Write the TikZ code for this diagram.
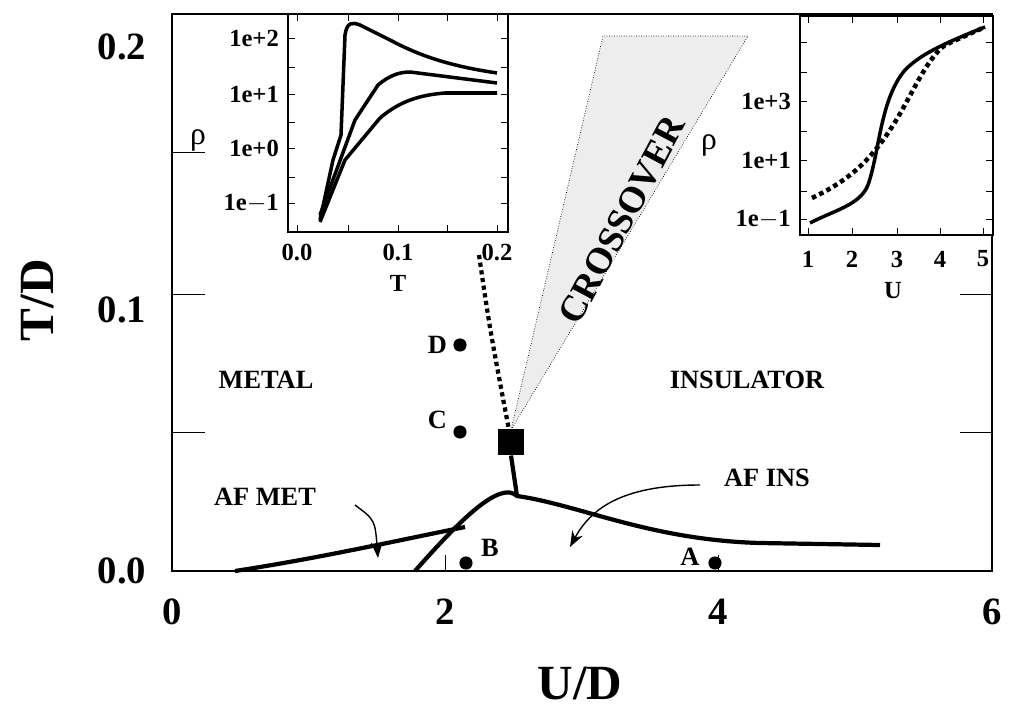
\documentclass[tikz,border=0pt]{standalone}
\usepackage{fontspec}
\setmainfont{Liberation Serif}
\usetikzlibrary{arrows.meta}
\begin{document}
\begin{tikzpicture}[x=0.02cm,y=-0.02cm,
  lab/.style={font=\bfseries\fontsize{15}{15}\selectfont},
  tk/.style={font=\bfseries\fontsize{14}{14}\selectfont},
  big/.style={font=\bfseries\fontsize{22}{22}\selectfont},
  curve/.style={line width=2.4pt,line join=round},
  dot/.style={circle,fill=black,inner sep=0pt,minimum size=7.5pt},
  frame/.style={line width=1.6pt}]
\useasboundingbox (0,0) rectangle (1022,713);
% main frame
\draw[frame] (172,14) rectangle (992,571);
\foreach \y in {152,294,432}{\draw (172,\y)--(205,\y);}
\foreach \y in {294,432}{\draw (960,\y)--(992,\y);}
\foreach \x in {445,718}{\draw[thin] (\x,571)--(\x,555);}
\node[big] (x0) at (172,612) {0};
\node[big] (x2) at (445,612) {2};
\node[big] (x4) at (718,612) {4};
\node[big] (x6) at (992,612) {6};
\node[big] (y0) at (122,571) {0.0};
\node[big] (y1) at (122,310) {0.1};
\node[big] (y2) at (122,47) {0.2};
\node[big,font=\bfseries\fontsize{28}{28}\selectfont,rotate=90] (TD) at (38,300) {T/D};
\node[big,font=\bfseries\fontsize{28}{28}\selectfont] (UD) at (580,684) {U/D};
% crossover
\fill[black!7] (511,430) -- (603,36) -- (748,36) -- cycle;
\draw[densely dotted,thin] (511,430) -- (603,36) -- (748,36) -- cycle;
\node[big,font=\bfseries\fontsize{21}{21}\selectfont,rotate=62] (cross) at (622,220) {CROSSOVER};
% lines
\draw[line width=2.4pt,dotted] (479,255) .. controls (490,330) .. (509,430);
\node[fill=black,minimum size=15pt,inner sep=0pt] (sq) at (511,442) {};
\coordinate (peak) at (517,496);
\draw[curve] (sq.south) -- (peak);
\draw[curve] (415,571) .. controls (460,520) and (500,480) .. (peak)
  .. controls (580,505) and (650,540) .. (760,543) -- (880,545);
\draw[curve] (235,571) .. controls (320,558) and (400,540) .. (465,527);
% points
\node[dot] (D) at (460,345) {}; \node[lab,left] (Dl) at (D.west) {D};
\node[dot] (C) at (460,432) {}; \node[lab,left] (Cl) at ([yshift=7pt]C.west) {C};
\node[dot] (B) at (466,563) {}; \node[lab] (Bl) at (490,548) {B};
\node[dot] (A) at (715,563) {}; \node[lab] (Al) at (690,557) {A};
\node[lab] (metal) at (266,380) {METAL};
\node[lab] (ins) at (747,380) {INSULATOR};
\node[lab] (afm) at (265,497) {AF MET};
\node[lab] (afi) at (767,478) {AF INS};
\coordinate (afmt) at (378,558);
\coordinate (afit) at (570,547);
\draw[-{Stealth[length=9pt]},line width=0.8pt] (355,505) .. controls (375,520) .. (afmt);
\draw[-{Stealth[length=9pt]},line width=0.8pt] (700,485) .. controls (620,485) and (590,510) .. (afit);
% inset 1
\fill[white] (288,14) rectangle (508,232);
\draw[frame] (288,14) rectangle (508,232);
\foreach \x in {297,348,398,447,497}{\draw (\x,232)--(\x,225); \draw (\x,14)--(\x,21);}
\foreach \y in {38,67,94,122,148,177,203}{\draw (288,\y)--(295,\y); \draw (508,\y)--(501,\y);}
\node[tk] (a0) at (297,252) {0.0};
\node[tk] (a1) at (398,252) {0.1};
\node[tk] (a2) at (497,252) {0.2};
\node[tk] (aT) at (398,283) {T};
\node[tk,anchor=east] (b2) at (285,38) {1e+2};
\node[tk,anchor=east] (b1) at (285,94) {1e+1};
\node[tk,anchor=east] (b0) at (285,148) {1e+0};
\node[tk,anchor=east] (bm) at (285,203) {1e$-$1};
\node[font=\fontsize{18}{18}\selectfont] (rho1) at (198,140) {ρ};
\draw[curve,line width=2pt] (320,220) -- (333,160) -- (341,135) -- (345,35) .. controls (347,22) and (352,22) .. (360,25) -- (390,40) .. controls (420,56) and (450,66) .. (497,73);
\draw[curve,line width=2pt] (320,215) -- (355,120) -- (378,85) .. controls (390,75) and (400,72) .. (410,72) -- (497,83);
\draw[curve,line width=2pt] (320,222) -- (345,160) -- (380,118) .. controls (400,101) and (420,95) .. (445,93) -- (497,93);
% inset 2
\fill[white] (800,16) rectangle (993,235);
\draw[frame] (800,16) rectangle (993,235);
\foreach \x in {808,852,897,940,983}{\draw (\x,235)--(\x,228); \draw (\x,16)--(\x,23);}
\foreach \y in {42,72,101,131,160,191,219}{\draw (800,\y)--(807,\y); \draw (993,\y)--(986,\y);}
\node[tk] (c1) at (808,259) {1};
\node[tk] (c2) at (852,259) {2};
\node[tk] (c3) at (897,259) {3};
\node[tk] (c4) at (940,259) {4};
\node[tk] (c5) at (983,259) {5};
\node[tk] (cU) at (893,291) {U};
\node[tk,anchor=east] (d3) at (797,101) {1e+3};
\node[tk,anchor=east] (d1) at (797,160) {1e+1};
\node[tk,anchor=east] (dm) at (797,219) {1e$-$1};
\node[font=\fontsize{18}{18}\selectfont] (rho2) at (709,145) {ρ};
\draw[curve,line width=2pt] (810,223) .. controls (835,210) and (860,205) .. (868,185) .. controls (880,150) and (880,100) .. (905,70) .. controls (920,55) and (940,45) .. (985,27);
\draw[line width=2.6pt,dotted] (812,198) .. controls (850,180) and (870,160) .. (890,130) .. controls (910,100) and (925,60) .. (945,45) -- (985,27);
\end{tikzpicture}
\end{document}
